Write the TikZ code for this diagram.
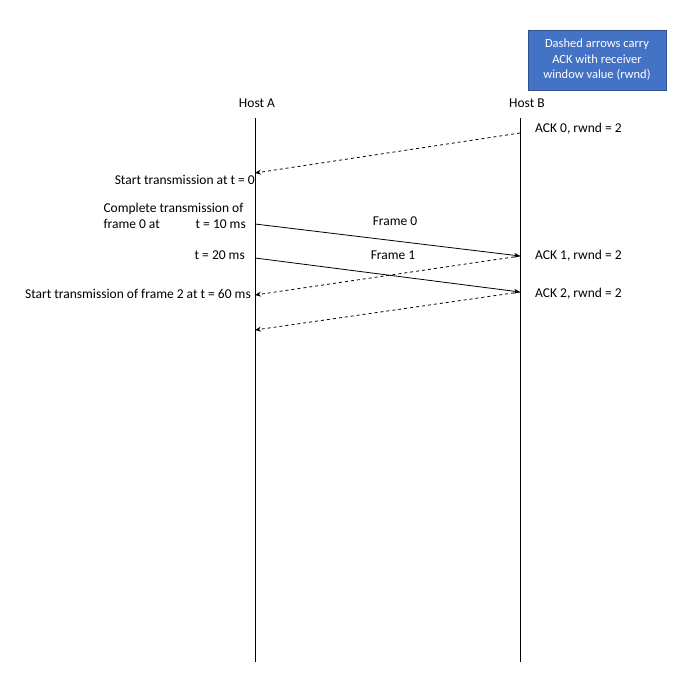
\documentclass[tikz,border=0pt]{standalone}
\usepackage{fontspec}
\setmainfont{Carlito}
\usetikzlibrary{arrows.meta}
\definecolor{notebg}{HTML}{4472C4}
\definecolor{noteedge}{HTML}{2F528F}
\begin{document}
\begin{tikzpicture}[x=1pt,y=-1pt,font=\fontsize{13.5}{16}\selectfont,
  lbl/.style={inner sep=1pt},
  msg/.style={-{Stealth[length=6pt,width=5pt]},thick},
  ack/.style={msg,dashed}]
\useasboundingbox (0,0) rectangle (691,700);
\node[fill=notebg,text=white,draw=noteedge,align=center,minimum width=138pt,minimum height=60pt,inner sep=1pt,font=\fontsize{12.5}{15.5}\selectfont] (note) at (597,60) {Dashed arrows carry\\ACK with receiver\\window value (rwnd)};
\node[lbl] (ha) at (257,103) {Host A};
\node[lbl] (hb) at (527,103) {Host B};
\coordinate (a0) at (255,118); \coordinate (a1) at (255,662);
\coordinate (b0) at (520,118); \coordinate (b1) at (520,662);
\draw (a0) -- (a1); \draw (b0) -- (b1);
\coordinate (p1) at (520,133); \coordinate (q1) at (255,173);
\coordinate (p2) at (255,224); \coordinate (q2) at (520,256);
\coordinate (p3) at (520,256); \coordinate (q3) at (255,295);
\coordinate (p4) at (255,258); \coordinate (q4) at (520,292);
\coordinate (p5) at (520,292); \coordinate (q5) at (255,330);
\draw[ack] (p1) -- (q1);
\draw[msg] (p2) -- (q2);
\draw[ack] (p3) -- (q3);
\draw[msg] (p4) -- (q4);
\draw[ack] (p5) -- (q5);
\node[lbl] (f0) at (395,221) {Frame 0};
\node[lbl] (f1) at (393,255) {Frame 1};
\node[lbl,anchor=east] (s0) at (256,180) {Start transmission at t = 0};
\node[lbl,align=left,anchor=east] (c0) at (247,216) {Complete transmission of\\ frame 0 at \hspace{2.2em} t = 10 ms};
\node[lbl,anchor=east] (t20) at (246,255) {t = 20 ms};
\node[lbl,anchor=east] (s2) at (252,294) {Start transmission of frame 2 at t = 60 ms};
\node[lbl,anchor=west] (k0) at (534,129) {ACK 0, rwnd = 2};
\node[lbl,anchor=west] (k1) at (534,256) {ACK 1, rwnd = 2};
\node[lbl,anchor=west] (k2) at (534,294) {ACK 2, rwnd = 2};
\end{tikzpicture}
\end{document}
